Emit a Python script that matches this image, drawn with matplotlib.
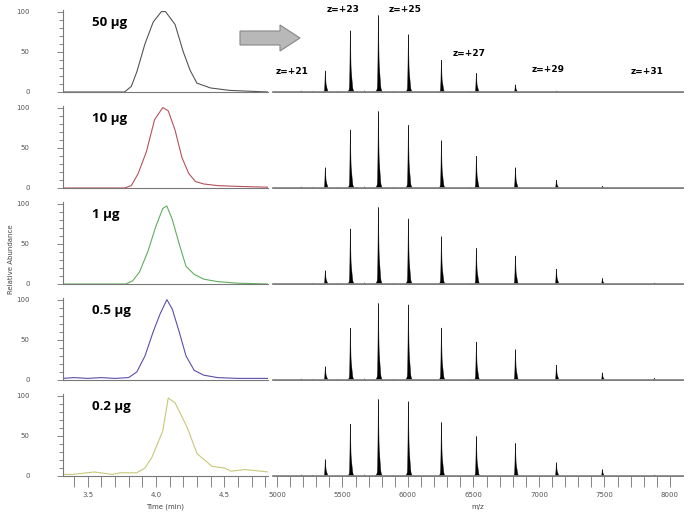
import matplotlib
matplotlib.use("Agg")
import matplotlib.pyplot as plt
import numpy as np
from matplotlib.patches import FancyArrow

# chromatograms (time in min, relative abundance)
amounts = ['50 µg', '10 µg', '1 µg', '0.5 µg', '0.2 µg']
colors = ['#555555', '#b5525a', '#5fae5f', '#5a4fa8', '#c8c878']

t1 = [3.32, 3.77, 3.82, 3.86, 3.92, 3.98, 4.04, 4.07, 4.14, 4.20, 4.25, 4.30, 4.40, 4.54, 4.82]
y1 = [0, 0, 7, 25, 60, 87, 100, 100, 84, 50, 27, 11, 5, 2, 0]
t2 = [3.32, 3.77, 3.82, 3.87, 3.93, 3.99, 4.05, 4.09, 4.14, 4.19, 4.24, 4.29, 4.35, 4.45, 4.60, 4.82]
y2 = [0, 0, 3, 18, 45, 85, 100, 96, 72, 38, 18, 8, 5, 3, 2, 1]
t3 = [3.32, 3.78, 3.83, 3.88, 3.94, 4.00, 4.05, 4.08, 4.12, 4.17, 4.22, 4.28, 4.35, 4.45, 4.60, 4.82]
y3 = [0, 0, 4, 15, 40, 72, 94, 97, 80, 50, 22, 12, 6, 3, 1, 0]
t4 = [3.32, 3.40, 3.50, 3.60, 3.70, 3.80, 3.86, 3.92, 3.98, 4.03, 4.08, 4.12, 4.17, 4.22, 4.28, 4.35, 4.45, 4.60, 4.82]
y4 = [2, 3, 2, 3, 2, 3, 10, 30, 60, 82, 100, 88, 60, 30, 12, 6, 3, 2, 2]
t5 = [3.32, 3.39, 3.55, 3.68, 3.74, 3.86, 3.92, 3.97, 4.05, 4.09, 4.14, 4.23, 4.30, 4.41, 4.50, 4.55, 4.65, 4.77, 4.82]
y5 = [2, 2, 5, 2, 4, 4, 10, 23, 56, 97, 91, 60, 28, 12, 10, 6, 8, 6, 5]
chrom_t = [t1, t2, t3, t4, t5]
chrom_y = [y1, y2, y3, y4, y5]

# mass spectra: charge-state peaks (m/z) and relative heights per sample
peak_mz = [5183, 5366, 5557, 5771, 6000, 6252, 6519, 6817, 7130, 7481, 7877]
heights = [
    [2, 28, 80, 100, 75, 42, 25, 10, 2, 0.5, 1],
    [2, 27, 76, 100, 82, 62, 42, 27, 11, 3, 1],
    [1, 18, 72, 100, 85, 62, 47, 37, 20, 8, 2],
    [2, 18, 68, 100, 98, 68, 50, 40, 20, 10, 3],
    [2, 22, 68, 100, 97, 70, 52, 43, 18, 9, 2],
]
minor_mz = [5270, 5460, 5665, 5885, 6475]
minor_h = [1.5, 1.5, 2, 1.5, 1.5]

z_labels = ['z=+21', 'z=+23', 'z=+25', 'z=+27', 'z=+29', 'z=+31']
z_pos = [(292, 72), (343, 10), (405, 10), (469, 53), (548, 70), (647, 72)]

W, H = 697, 518
fig = plt.figure(figsize=(W / 100, H / 100), dpi=100)

mz = np.linspace(4970, 8100, 8000)


def spectrum(h):
    s = np.zeros_like(mz)
    for p, a in zip(peak_mz, h):
        s += 0.75 * a * np.exp(-0.5 * ((mz - p) / 2.5) ** 2)
        s += 0.25 * a * np.exp(-0.5 * ((mz - p - 6) / 6) ** 2)
        s += 0.06 * a * np.exp(-0.5 * ((mz - p - 5) / 14) ** 2)
    for p, a in zip(minor_mz, minor_h):
        s += a * np.exp(-0.5 * ((mz - p) / 3) ** 2)
    return s


def px(x0, y0, w, h):
    return [x0 / W, 1 - (y0 + h) / H, w / W, h / H]


for i in range(5):
    base = 92 + 96 * i
    axl = fig.add_axes(px(63, base - 82, 205, 82))
    axl.plot(chrom_t[i], chrom_y[i], color=colors[i], lw=0.8)
    axl.set_xlim(3.32, 4.82)
    axl.set_ylim(0, 102)
    axl.set_yticks([0, 50, 100])
    axl.set_yticks(np.arange(0, 101, 10), minor=True)
    axl.tick_params(axis='y', labelsize=5, length=4, width=0.5, colors='#555555', pad=20)
    axl.tick_params(axis='y', which='minor', length=3, width=0.5, colors='#555555')
    for s in ['top', 'right']:
        axl.spines[s].set_visible(False)
    axl.spines['left'].set_color('#777777')
    axl.spines['bottom'].set_color('#777777')
    axl.text(0.14, 0.85, amounts[i], transform=axl.transAxes, fontsize=9.5,
             fontweight='bold', family='Open Sans', va='center')

    axr = fig.add_axes(px(273, base - 82, 410, 82))
    axr.fill_between(mz, spectrum(heights[i]), color='black', lw=0.3, clip_on=False)
    axr.set_xlim(4970, 8100)
    axr.set_ylim(0, 102)
    axr.set_yticks([])
    for s in ['top', 'right', 'left']:
        axr.spines[s].set_visible(False)
    axr.spines['bottom'].set_color('#888888')
    axr.spines['bottom'].set_linewidth(1.3)

    if i < 4:
        axl.set_xticks([])
        axr.set_xticks([])
    else:
        axl.set_xticks([3.5, 4.0, 4.5])
        axl.set_xticks(np.arange(3.4, 4.81, 0.1), minor=True)
        axl.tick_params(axis='x', which='both', length=8, width=0.5, labelsize=5, colors='#555555')
        axl.set_xlabel('Time (min)', fontsize=5, color='#444444')
        axr.set_xticks(np.arange(5000, 8001, 500))
        axr.set_xticks(np.arange(5000, 8001, 100), minor=True)
        axr.tick_params(axis='x', which='both', length=8, width=0.5, labelsize=5, colors='#555555')
        axr.set_xlabel('m/z', fontsize=5, color='#444444')

for lab, (x, y) in zip(z_labels, z_pos):
    fig.text(x / W, 1 - y / H, lab, fontsize=6.5, fontweight='bold', ha='center', va='center')

fig.text(8 / W, 0.5, 'Relative Abundance', rotation=90, fontsize=5, va='center', color='#444444')

arrow = FancyArrow(240 / W, 1 - 38 / H, 40 / W, 0, width=14 / H, head_width=26 / H,
                   head_length=20 / W, length_includes_head=False,
                   transform=fig.transFigure, facecolor='#b8b8b8', edgecolor='#888888', lw=0.8)
fig.patches.append(arrow)

fig.savefig('out.png', dpi=100)
